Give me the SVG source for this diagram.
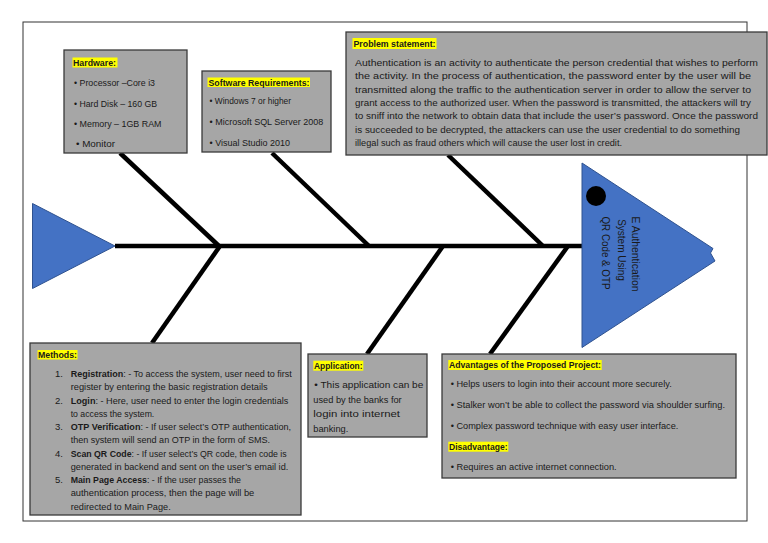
<svg xmlns="http://www.w3.org/2000/svg" width="768" height="543" viewBox="0 0 768 543">
<style>
.box{fill:#A6A6A6;stroke:#3a3a3a;stroke-width:1.3}
.hl{fill:#FFFF00}
.t{font-family:"Liberation Sans",Arial,sans-serif;font-size:9.5px;fill:#1a1a1a}
.b{font-weight:bold}
.bone{stroke:#000;stroke-width:4.5;stroke-linecap:butt;fill:none}
.fish{fill:#4472C4;stroke:#2F528F;stroke-width:1}
</style>
<rect x="0" y="0" width="768" height="543" fill="#fff"/>
<rect x="23" y="22" width="724" height="499" fill="none" stroke="#333" stroke-width="1"/>

<g id="connectors">
<line class="bone" x1="115" y1="246" x2="584" y2="246" stroke-width="5"/>
<line class="bone" x1="120" y1="153" x2="219" y2="246"/>
<line class="bone" x1="272" y1="153" x2="369" y2="246"/>
<line class="bone" x1="448" y1="155" x2="543" y2="246"/>
<line class="bone" x1="220" y1="246" x2="152" y2="343"/>
<line class="bone" x1="443" y1="246" x2="367" y2="354"/>
<line class="bone" x1="568" y1="246" x2="490" y2="354"/>
</g>

<g id="tail">
<polygon class="fish" points="32.5,203.5 32.5,288.5 115,246"/>
</g>

<g id="head">
<polygon class="fish" points="582,163 713,248.5 710.5,253 715,261 582,347.5"/>
<circle cx="596" cy="196" r="10" fill="#000"/>
<g transform="rotate(90)" class="t" style="font-size:10px" text-anchor="middle">
<text x="254" y="-631.5" textLength="75" lengthAdjust="spacingAndGlyphs">E Authentication</text>
<text x="250" y="-618">System Using</text>
<text x="253" y="-601.5" textLength="73" lengthAdjust="spacingAndGlyphs">QR Code &amp; OTP</text>
</g>
</g>

<g id="hardware">
<rect class="box" x="64" y="50" width="123" height="103"/>
<rect class="hl" x="72.5" y="57.5" width="45" height="10"/>
<text class="t b" x="73" y="65.5" textLength="43" lengthAdjust="spacingAndGlyphs">Hardware:</text>
<text class="t" x="74" y="85.5" textLength="81" lengthAdjust="spacingAndGlyphs">• Processor –Core i3</text>
<text class="t" x="74" y="106.5" textLength="83" lengthAdjust="spacingAndGlyphs">• Hard Disk – 160 GB</text>
<text class="t" x="74" y="127" textLength="87.5" lengthAdjust="spacingAndGlyphs">• Memory – 1GB RAM</text>
<text class="t" x="76" y="147" textLength="39" lengthAdjust="spacingAndGlyphs">• Monitor</text>
</g>

<g id="software">
<rect class="box" x="202" y="71" width="129" height="81"/>
<rect class="hl" x="207.5" y="77.5" width="102.5" height="9.5"/>
<text class="t b" x="208.5" y="85.5" textLength="101" lengthAdjust="spacingAndGlyphs">Software Requirements:</text>
<text class="t" x="209.5" y="103.5" textLength="81.5" lengthAdjust="spacingAndGlyphs">• Windows 7 or higher</text>
<text class="t" x="209.5" y="125" textLength="113.8" lengthAdjust="spacingAndGlyphs">• Microsoft SQL Server 2008</text>
<text class="t" x="209.5" y="145.5" textLength="80.5" lengthAdjust="spacingAndGlyphs">• Visual Studio 2010</text>
</g>

<g id="problem">
<rect class="box" x="346" y="32" width="421" height="123"/>
<rect class="hl" x="352.5" y="38" width="84" height="11"/>
<text class="t b" x="353.5" y="47" textLength="82" lengthAdjust="spacingAndGlyphs">Problem statement:</text>
<text class="t" x="355" y="66" textLength="403" lengthAdjust="spacingAndGlyphs">Authentication is an activity to authenticate the person credential that wishes to perform</text>
<text class="t" x="355" y="79.3" textLength="396" lengthAdjust="spacingAndGlyphs">the activity. In the process of authentication, the password enter by the user will be</text>
<text class="t" x="355" y="92.6" textLength="396" lengthAdjust="spacingAndGlyphs">transmitted along the traffic to the authentication server in order to allow the server to</text>
<text class="t" x="355" y="105.9" textLength="396" lengthAdjust="spacingAndGlyphs">grant access to the authorized user. When the password is transmitted, the attackers will try</text>
<text class="t" x="355" y="119.2" textLength="403" lengthAdjust="spacingAndGlyphs">to sniff into the network to obtain data that include the user’s password. Once the password</text>
<text class="t" x="355" y="132.5" textLength="385" lengthAdjust="spacingAndGlyphs">is succeeded to be decrypted, the attackers can use the user credential to do something</text>
<text class="t" x="355" y="145.8" textLength="267" lengthAdjust="spacingAndGlyphs">illegal such as fraud others which will cause the user lost in credit.</text>
</g>

<g id="methods">
<rect class="box" x="30" y="343" width="271" height="172"/>
<rect class="hl" x="37.5" y="350" width="40" height="9.5"/>
<text class="t b" x="38" y="357.8" textLength="39" lengthAdjust="spacingAndGlyphs">Methods:</text>
<text class="t" x="55" y="377">1.</text>
<text class="t" x="70.7" y="377" textLength="221" lengthAdjust="spacingAndGlyphs"><tspan class="b">Registration</tspan>: - To access the system, user need to first</text>
<text class="t" x="70.7" y="390.3" textLength="197" lengthAdjust="spacingAndGlyphs">register by entering the basic registration details</text>
<text class="t" x="55" y="403.5">2.</text>
<text class="t" x="70.7" y="403.5" textLength="217.6" lengthAdjust="spacingAndGlyphs"><tspan class="b">Login</tspan>: - Here, user need to enter the login credentials</text>
<text class="t" x="70.7" y="416.8" textLength="83.6" lengthAdjust="spacingAndGlyphs">to access the system.</text>
<text class="t" x="55" y="430.1">3.</text>
<text class="t" x="70.7" y="430.1" textLength="220.3" lengthAdjust="spacingAndGlyphs"><tspan class="b">OTP Verification</tspan>: - If user select’s OTP authentication,</text>
<text class="t" x="70.7" y="443.4" textLength="199.3" lengthAdjust="spacingAndGlyphs">then system will send an OTP in the form of SMS.</text>
<text class="t" x="55" y="456.6">4.</text>
<text class="t" x="70.7" y="456.6" textLength="216" lengthAdjust="spacingAndGlyphs"><tspan class="b">Scan QR Code</tspan>: - If user select’s QR code, then code is</text>
<text class="t" x="70.7" y="469.9" textLength="217.6" lengthAdjust="spacingAndGlyphs">generated in backend and sent on the user’s email id.</text>
<text class="t" x="55" y="483.2">5.</text>
<text class="t" x="70.7" y="483.2" textLength="170.3" lengthAdjust="spacingAndGlyphs"><tspan class="b">Main Page Access</tspan>: - If the user passes the</text>
<text class="t" x="70.7" y="496.4" textLength="183.6" lengthAdjust="spacingAndGlyphs">authentication process, then the page will be</text>
<text class="t" x="70.7" y="509.7" textLength="100" lengthAdjust="spacingAndGlyphs">redirected to Main Page.</text>
</g>

<g id="application">
<rect class="box" x="308" y="354" width="119" height="83"/>
<rect class="hl" x="313.3" y="360.7" width="50" height="10"/>
<text class="t b" x="314" y="368.8" textLength="48.5" lengthAdjust="spacingAndGlyphs">Application:</text>
<text class="t" x="314.3" y="388" textLength="109" lengthAdjust="spacingAndGlyphs">• This application can be</text>
<text class="t" x="313.3" y="403" textLength="88.4" lengthAdjust="spacingAndGlyphs">used by the banks for</text>
<text class="t" x="313.3" y="417" textLength="86.7" lengthAdjust="spacingAndGlyphs">login into internet</text>
<text class="t" x="313.3" y="431.5" textLength="35" lengthAdjust="spacingAndGlyphs">banking.</text>
</g>

<g id="advantages">
<rect class="box" x="442" y="354" width="294" height="124"/>
<rect class="hl" x="448.3" y="360" width="153.4" height="10"/>
<text class="t b" x="449" y="368.2" textLength="152" lengthAdjust="spacingAndGlyphs">Advantages of the Proposed Project:</text>
<text class="t" x="450.7" y="387.3" textLength="221" lengthAdjust="spacingAndGlyphs">• Helps users to login into their account more securely.</text>
<text class="t" x="450.7" y="407.6" textLength="274.3" lengthAdjust="spacingAndGlyphs">• Stalker won’t be able to collect the password via shoulder surfing.</text>
<text class="t" x="450.7" y="429" textLength="227.6" lengthAdjust="spacingAndGlyphs">• Complex password technique with easy user interface.</text>
<rect class="hl" x="448.3" y="441.7" width="60" height="10"/>
<text class="t b" x="449" y="449.9" textLength="58.5" lengthAdjust="spacingAndGlyphs">Disadvantage:</text>
<text class="t" x="450.7" y="469.9" textLength="166" lengthAdjust="spacingAndGlyphs">• Requires an active internet connection.</text>
</g>
</svg>
